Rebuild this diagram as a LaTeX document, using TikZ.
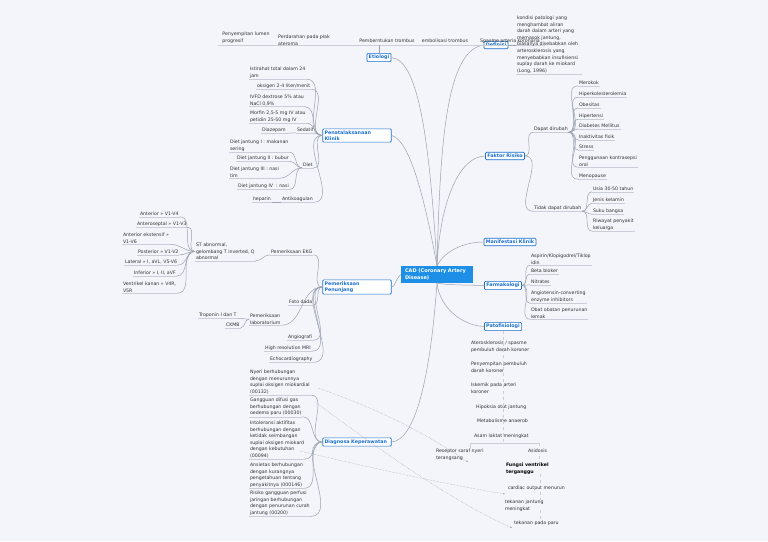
\documentclass[tikz,border=0pt]{standalone}
\usepackage{fontspec}
\setmainfont{DejaVu Sans}
\usetikzlibrary{arrows.meta}
\definecolor{bg}{HTML}{F3F5FB}
\definecolor{tb}{HTML}{1E8FE6}
\definecolor{tt}{HTML}{1A6FD0}
\definecolor{lc}{HTML}{C9CED8}
\definecolor{cc}{HTML}{9AA2B0}
\newcommand{\mygg}{\textgreater\textgreater}
\begin{document}
\begin{tikzpicture}[x=1pt,y=-1pt,
  every node/.style={font=\fontsize{4.7}{6.6}\selectfont, text=black!80},
  lf/.style={inner sep=0.8pt, align=left, append after command={(\tikzlastnode.south west) edge[draw=lc, line width=0.5pt] (\tikzlastnode.south east)}},
  pl/.style={inner sep=0.8pt, align=left},
  topic/.style={draw=tt, fill=white, rounded corners=1pt, line width=0.7pt, text=tt, font=\fontsize{4.8}{6}\selectfont\bfseries, inner sep=1.8pt, align=left},
  wt/.style={text width=65pt},
  conn/.style={draw=cc, line width=0.5pt},
  rel/.style={draw=cc, line width=0.45pt, densely dotted, -{Stealth[length=2pt]}},
]
\useasboundingbox (0,0) rectangle (768,541);
\fill[bg] (0,0) rectangle (768,541);

% central and topics
\node[fill=tb, text=white, font=\fontsize{5}{6.5}\selectfont\bfseries, align=left, minimum width=72pt, minimum height=17pt, text width=64pt] (cad) at (437,274.5) {CAD (Coronary Artery\\Disease)};
\node[topic] (eti) at (379,57.5) {Etiologi};
\node[topic] (def) at (496,45) {Definisi};
\node[topic, wt] (pen) at (357,135.5) {Penatalaksanaan\\Klinik};
\node[topic] (fr) at (505,156) {Faktor Risiko};
\node[topic] (mk) at (510,242) {Manifestasi Klinik};
\node[topic, wt] (pp) at (357,287) {Pemeriksaan\\Penunjang};
\node[topic] (far) at (503,285.5) {Farmakologi};
\node[topic] (pat) at (503,326.5) {Patofisiologi};
\node[topic, wt] (dk) at (357,442) {Diagnosa Keperawatan};

\coordinate (ct) at (437,266);
\draw[conn] (ct) .. controls (430,150) and (420,60) .. (eti.east);
\draw[conn] (ct) .. controls (440,150) and (445,50) .. (def.west);
\draw[conn] (ct) .. controls (425,200) and (410,140) .. (pen.east);
\draw[conn] (ct) .. controls (440,200) and (460,156) .. (fr.west);
\draw[conn] (ct) .. controls (445,250) and (465,242) .. (mk.west);
\draw[conn] (cad.west) .. controls (395,280) and (395,287) .. (pp.east);
\draw[conn] (437,283) .. controls (445,285) and (465,285) .. (far.west);
\draw[conn] (437,283) .. controls (440,310) and (465,326) .. (pat.west);
\draw[conn] (437,283) .. controls (430,380) and (415,440) .. (dk.east);

% Etiologi chain
\node[pl] (e1) at (387,41) {Pemberntukan trombus};
\node[pl] (e2) at (445,41) {embolisasi trombus};
\node[pl] (e3) at (510,41) {Spasme arteria koronaria};
\node[pl] (e4) at (304,40.5) {Perdarahan pada plak\\ateroma};
\node[pl] (e5) at (246,37.5) {Penyempitan lumen\\progresif};
\draw[lc, line width=0.5pt] (218,45) -- (545,45);
\draw[conn] (eti.north) -- (379,45);

% Definisi
\node[pl, anchor=north west] (dtx) at (516,15) {kondisi patologi yang\\menghambat aliran\\darah dalam arteri yang\\memasok jantung,\\biasanya disebabkan oleh\\arterosklerosis yang\\menyebabkan insufisiensi\\suplay darah ke miokard\\(Long, 1996)};
\draw[lc, line width=0.5pt] (516,74) -- (582,74);
\draw[conn] (def.east) -- (516,45);

% Penatalaksanaan
\node[lf, anchor=north west] (p1) at (249,66) {Istirahat total dalam 24\\jam};
\node[lf, anchor=west] (p2) at (256,86) {oksigen 2-4 liter/menit};
\node[lf, anchor=north west] (p3) at (249,94) {IVFD dextrose 5\% atau\\NaCl 0,9\%};
\node[lf, anchor=north west] (p4) at (249,110) {Morfin 2,5-5 mg IV atau\\petidin 25-50 mg IV};
\node[lf, anchor=west] (p5) at (296,130) {Sedatif};
\node[lf, anchor=west] (p51) at (261,130) {Diazepam};
\node[lf, anchor=west] (p6) at (302,165) {Diet};
\node[lf, anchor=north west] (p61) at (229,139) {Diet jantung I : makanan\\sering};
\node[lf, anchor=west] (p62) at (236,158) {Diet jantung II : bubur};
\node[lf, anchor=north west] (p63) at (229,166) {Diet jantung III : nasi\\tim};
\node[lf, anchor=west] (p64) at (237,186) {Diet jantung IV\ \ : nasi};
\node[lf, anchor=west] (p7) at (281,199) {Antikoagulan};
\node[lf, anchor=west] (p71) at (252,199) {heparin};
\foreach \c in {p1,p2,p3,p4,p5,p6,p7} \draw[conn] (pen.west) to[out=180,in=0] (\c.south east);
\draw[conn] (p5.south west) -- (p51.south east);
\draw[conn] (p7.south west) -- (p71.south east);
\foreach \c in {p61,p62,p63,p64} \draw[conn] (p6.south west) to[out=180,in=0] (\c.south east);

% Faktor risiko
\node[lf, anchor=west] (f1) at (533,129) {Dapat dirubah};
\node[lf, anchor=west] (f2) at (533,208) {Tidak dapat dirubah};
\draw[conn] (fr.east) to[out=0,in=180] (f1.south west);
\draw[conn] (fr.east) to[out=0,in=180] (f2.south west);
\foreach \n/\y/\t in {a/83/Merokok, b/94/Hiperkolesterolemia, c/105/Obesitas, d/116/Hipertensi, e/126/Diabetes Mellitus, f/137/Inaktivitas fisik, g/147/Stress, i/176/Menopause} {
  \node[lf, anchor=west] (fa\n) at (578,\y) {\t};
  \draw[conn] (f1.south east) to[out=0,in=180] (fa\n.south west);
}
\node[lf, anchor=north west] (fah) at (578,155) {Penggunaan kontrasepsi\\oral};
\draw[conn] (f1.south east) to[out=0,in=180] (fah.south west);
\foreach \n/\y/\t in {a/189/Usia 30-50 tahun, b/200/Jenis kelamin, c/211/Suku bangsa} {
  \node[lf, anchor=west] (fb\n) at (592,\y) {\t};
  \draw[conn] (f2.south east) to[out=0,in=180] (fb\n.south west);
}
\node[lf, anchor=north west] (fbd) at (592,218) {Riwayat penyakit\\keluarga};
\draw[conn] (f2.south east) to[out=0,in=180] (fbd.south west);

% Farmakologi
\node[lf, anchor=north west] (fm1) at (530,253) {Aspirin/Klopigodrel/Tiklop\\idin};
\node[lf, anchor=west] (fm2) at (530,271) {Beta bloker};
\node[lf, anchor=west] (fm3) at (530,282) {Nitrates};
\node[lf, anchor=north west] (fm4) at (530,290) {Angiotensin-converting\\enzyme inhibitors};
\node[lf, anchor=north west] (fm5) at (530,307) {Obat obatan penurunan\\lemak};
\foreach \c in {fm1,fm2,fm3,fm4,fm5} \draw[conn] (far.east) to[out=0,in=180] (\c.south west);

% Pemeriksaan penunjang
\node[lf, anchor=west] (q1) at (270,252) {Pemeriksaan EKG};
\node[lf, anchor=west] (q2) at (288,302) {Foto dada};
\node[lf, anchor=north west] (q3) at (249,313) {Pemeriksaan\\laboratorium};
\node[lf, anchor=west] (q4) at (287,337) {Angiografi};
\node[lf, anchor=west] (q5) at (264,348) {High resolution MRI};
\node[lf, anchor=west] (q6) at (269,359) {Echocardiography};
\foreach \c in {q1,q2,q3,q4,q5,q6} \draw[conn] (pp.west) to[out=180,in=0] (\c.south east);
\node[lf, anchor=north west] (q11) at (195,242) {ST abnormal,\\gelombang T inverted, Q\\abnormal};
\draw[conn] (q1.south west) to[out=180,in=0] (q11.south east);
\node[lf, anchor=west] (k1) at (139,214) {Anterior \mygg{} V1-V4};
\node[lf, anchor=west] (k2) at (136,224) {Anteroseptal \mygg{} V1-V3};
\node[lf, anchor=north west] (k3) at (122,232) {Anterior ekstensif \mygg\\V1-V6};
\node[lf, anchor=west] (k4) at (137,252) {Posterior \mygg{} V1-V2};
\node[lf, anchor=west] (k5) at (124,262) {Lateral \mygg{} I, aVL, V5-V6};
\node[lf, anchor=west] (k6) at (133,273) {Inferior \mygg{} I, II, aVF};
\node[lf, anchor=north west] (k7) at (122,281) {Ventrikel kanan \mygg{} V4R,\\V5R};
\foreach \c in {k1,k2,k3,k4,k5,k6,k7} \draw[conn] (q11.west) to[out=180,in=0] (\c.south east);
\node[lf, anchor=west] (l1) at (198,315) {Troponin I dan T};
\node[lf, anchor=west] (l2) at (225,325) {CKMB};
\draw[conn] (q3.west) to[out=180,in=0] (l1.south east);
\draw[conn] (q3.west) to[out=180,in=0] (l2.south east);

% Diagnosa
\node[lf, anchor=north west] (d1) at (249,369) {Nyeri berhubungan\\dengan menurunnya\\suplai oksigen miokardial\\(00132)};
\node[lf, anchor=north west] (d2) at (249,397) {Gangguan difusi gas\\berhubungan dengan\\oedema paru (00030)};
\node[lf, anchor=north west] (d3) at (249,420) {Intoleransi aktifitas\\berhubungan dengan\\ketidak seimbangan\\suplai oksigen miokard\\dengan kebutuhan\\(00094)};
\node[lf, anchor=north west] (d4) at (249,462) {Ansietas berhubungan\\dengan kurangnya\\pengetahuan tentang\\penyakitnya (000146)};
\node[lf, anchor=north west] (d5) at (249,490) {Risiko gangguan perfusi\\jaringan berhubungan\\dengan penurunan curah\\jantung (00200)};
\foreach \c in {d1,d2,d3,d4,d5} \draw[conn] (dk.west) to[out=180,in=0] (\c.south east);

% Patofisiologi
\node[pl, anchor=north west] (t1) at (470,340) {Aterosklerosis / spasme\\pembuluh darah koroner};
\node[pl, anchor=north west] (t2) at (470,361) {Penyempitan pembuluh\\darah koroner};
\node[pl, anchor=north west] (t3) at (470,382) {Iskemik pada arteri\\koroner};
\node[pl, anchor=west] (t4) at (475,407) {Hipoksia otot jantung};
\node[pl, anchor=west] (t5) at (476,421) {Metabolisme anaerob};
\node[pl, anchor=west] (t6) at (473,436) {Asam laktat meningkat};
\node[pl, anchor=north west] (t7) at (435,448) {Reseptor saraf nyeri\\terangsang};
\node[pl, anchor=west] (t8) at (527,451) {Asidosis};
\node[pl, anchor=north west, font=\fontsize{4.7}{6.6}\selectfont\bfseries, text=black] (t9) at (505,462) {Fungsi ventrikel\\terganggu};
\node[pl, anchor=west] (t10) at (507,488) {cardiac output menurun};
\node[pl, anchor=north west] (t11) at (504,499) {tekanan jantung\\meningkat};
\node[pl, anchor=west] (t12) at (513,523) {tekanan pada paru};
\draw[lc, line width=0.5pt, dashed] (pat.south) -- (503,443);
\draw[lc, line width=0.5pt] (470,443) -- (540,443);
\draw[lc, line width=0.5pt] (470,443) -- (470,448);
\draw[lc, line width=0.5pt, dashed] (539,443) -- (539,448) (539,456) -- (539,462) (540,474) -- (540,484) (540,492) -- (540,500) (540,510) -- (540,520);

% relations
\draw[rel] (318,388) .. controls (380,410) and (420,430) .. (468,462);
\draw[rel] (315,402) .. controls (380,450) and (450,500) .. (512,528);
\draw[rel] (300,451) .. controls (380,470) and (450,485) .. (505,494);
\end{tikzpicture}
\end{document}
